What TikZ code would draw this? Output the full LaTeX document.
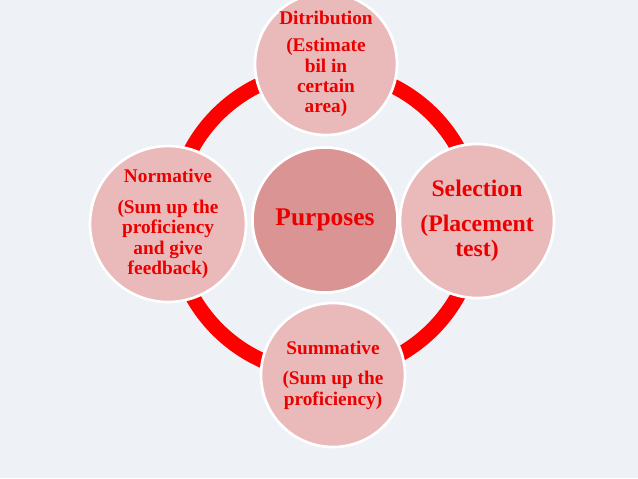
\documentclass[tikz,border=0pt]{standalone}
\usepackage{fontspec}
\setmainfont{Liberation Serif}
\definecolor{bg}{RGB}{238,242,247}
\definecolor{pinkc}{RGB}{234,186,186}
\definecolor{darkc}{RGB}{218,148,148}
\definecolor{txt}{RGB}{235,0,0}
\begin{document}
\begin{tikzpicture}[x=0.02cm,y=-0.02cm,
  circ/.style={circle,fill=pinkc,draw=white,line width=1.5pt,inner sep=0pt,align=center,font=\bfseries,text=txt},
]
\fill[bg] (0,0) rectangle (638,478);
\useasboundingbox (0,0) rectangle (638,478);
\draw[red,line width=15*0.02cm] (325,222) circle[radius=152];
\node[circ,fill=darkc,minimum size=145*0.02cm,font=\bfseries\fontsize{14.5}{17}\selectfont] (c) at (325,220) {Purposes};
\node[circ,minimum size=142*0.02cm,font=\bfseries\fontsize{11}{11.5}\selectfont] (t) at (326,64) {Ditribution\\[4pt](Estimate\\bil in\\certain\\area)};
\node[circ,minimum size=154*0.02cm,font=\bfseries\fontsize{13.5}{14}\selectfont] (r) at (477,221) {Selection\\[6pt](Placement\\test)};
\node[circ,minimum size=144*0.02cm,font=\bfseries\fontsize{11}{11.5}\selectfont] (b) at (333,375) {Summative\\[6pt](Sum up the\\proficiency)};
\node[circ,minimum size=156*0.02cm,font=\bfseries\fontsize{11}{11.5}\selectfont] (l) at (168,224) {Normative\\[6pt](Sum up the\\proficiency\\and give\\feedback)};
\end{tikzpicture}
\end{document}
